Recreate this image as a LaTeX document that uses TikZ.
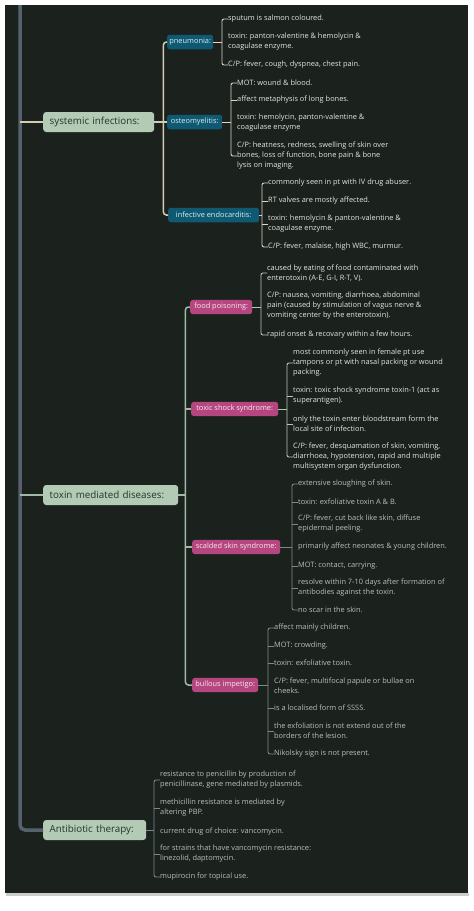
\documentclass[tikz,border=0pt]{standalone}
\usepackage{fontspec}
\setmainfont{Open Sans}
\usetikzlibrary{calc}
\definecolor{panel}{HTML}{1B221E}
\definecolor{mainfill}{HTML}{B3CAB5}
\definecolor{maintext}{HTML}{26352B}
\definecolor{tealfill}{HTML}{0F5A72}
\definecolor{tealtext}{HTML}{D8EEF2}
\definecolor{pinkfill}{HTML}{B5467F}
\definecolor{pinktext}{HTML}{F8E8F0}
\definecolor{beige}{HTML}{D6CCB2}
\definecolor{leafline}{HTML}{DDD6C6}
\definecolor{greenline}{HTML}{A3B9A7}
\definecolor{leaftext}{HTML}{E4E4E0}
\definecolor{barcol}{HTML}{566170}
\definecolor{graybr}{HTML}{7D8A84}
\newcommand{\mkbracket}[4]{%
  \path (#2.west) ++(-6,0) coordinate (#1j);
  \draw[#4, rounded corners=2pt] (#2.west) -- (#1j) |- (#3.west);
  \draw[#4] (#1.east) -- (#1.east -| #1j);
}
\newcommand{\mktick}[3]{%
  \foreach \m in {#2} \draw[#3] (\m.west -| #1j) -- (\m.west);
}
\begin{document}
\begin{tikzpicture}[x=1pt,y=-1pt,
  mainnode/.style={fill=mainfill, text=maintext, rounded corners=3pt, anchor=west,
    font=\fontsize{9.8}{11}\selectfont, minimum height=20pt, inner xsep=6.5pt, align=left},
  tealnode/.style={fill=tealfill, text=tealtext, rounded corners=2.5pt, anchor=west,
    font=\fontsize{7.4}{9}\selectfont, minimum height=14.5pt, inner xsep=2pt},
  pinknode/.style={fill=pinkfill, text=pinktext, rounded corners=2.5pt, anchor=west,
    font=\fontsize{7.4}{9}\selectfont, minimum height=14pt, inner xsep=2pt},
  leaf/.style={anchor=west, inner sep=0pt, text=leaftext, align=left,
    font=\fontsize{7.4}{10}\selectfont},
  soft/.style={leaf, text opacity=0.8},
  lc/.style={draw=leafline, line width=0.9pt},
  lcg/.style={draw=greenline!80!white, line width=0.9pt},
  lcd/.style={draw=graybr, line width=0.9pt},
  sysbr/.style={draw=beige, line width=1.5pt},
  toxbr/.style={draw=greenline, line width=1.5pt},
  antibr/.style={draw=graybr, line width=1.5pt},
  barline/.style={draw=barcol, line width=3.5pt}
]
\useasboundingbox (0,0) rectangle (474,911);
\fill[white] (0,0) rectangle (474,911);
\fill[gray!40] (6,893) rectangle (469,896);
\fill[panel] (5,5) rectangle (468,893);

% main nodes
\node[mainnode, text width=98pt] (sys) at (43,122) {systemic infections:};
\node[mainnode, text width=122pt] (tox) at (43,495) {toxin mediated diseases:};
\node[mainnode, text width=90pt] (anti) at (43,830) {Antibiotic therapy:};

% main bar
\coordinate (bartop) at (20,5);
\draw[barline, rounded corners=5pt] (bartop) |- (anti.west);
\draw[sysbr] (sys.west -| bartop) -- (sys.west);
\draw[toxbr] (tox.west -| bartop) -- (tox.west);

% systemic children
\node[tealnode, minimum width=46pt] (pneu) at (167,42) {pneumonia:};
\node[tealnode, minimum width=55pt] (osteo) at (167,122) {osteomyelitis:};
\node[tealnode, minimum width=91pt] (endo) at (168,215) {infective endocarditis:};
\coordinate (sysj) at ($(sys.east)+(9,0)$);
\draw[sysbr, rounded corners=3pt] (pneu.west) -| (sysj) |- (endo.west);
\draw[sysbr] (sys.east) -- (osteo.west);

% pneumonia leaves
\node[leaf] (p1) at (228,19) {sputum is salmon coloured.};
\node[leaf] (p2) at (228,42) {toxin: panton-valentine \& hemolycin \&\\coagulase enzyme.};
\node[leaf] (p3) at (228,65) {C/P: fever, cough, dyspnea, chest pain.};
\mkbracket{pneu}{p1}{p3}{lc}

% osteomyelitis leaves
\node[leaf] (o1) at (237,83) {MOT: wound \& blood.};
\node[leaf] (o2) at (237,100) {affect metaphysis of long bones.};
\node[leaf] (o3) at (237,123) {toxin: hemolycin, panton-valentine \&\\coagulase enzyme};
\node[leaf] (o4) at (237,156) {C/P: heatness, redness, swelling of skin over\\bones, loss of function, bone pain \& bone\\lysis on imaging.};
\mkbracket{osteo}{o1}{o4}{lc}
\mktick{osteo}{o2}{lc}

% endocarditis leaves
\node[leaf] (e1) at (268,183) {commonly seen in pt with IV drug abuser.};
\node[leaf] (e2) at (268,201) {RT valves are mostly affected.};
\node[leaf] (e3) at (268,224) {toxin: hemolycin \& panton-valentine \&\\coagulase enzyme.};
\node[leaf] (e4) at (268,247) {C/P: fever, malaise, high WBC, murmur.};
\mkbracket{endo}{e1}{e4}{lc}
\mktick{endo}{e2,e3}{lc}

% toxin mediated children
\node[pinknode, minimum width=62pt] (food) at (190,307) {food poisoning:};
\node[pinknode, minimum width=87pt] (tss) at (191,409) {toxic shock syndrome:};
\node[pinknode, minimum width=88pt] (sss) at (192,547) {scalded skin syndrome:};
\node[pinknode, minimum width=66pt] (bull) at (192,685) {bullous impetigo:};
\coordinate (toxj) at ($(tox.east)+(7,0)$);
\draw[toxbr, rounded corners=3pt] (food.west) -| (toxj) |- (bull.west);
\draw[toxbr] (tox.east) -- (toxj);
\draw[toxbr] (toxj |- tss.west) -- (tss.west);
\draw[toxbr] (toxj |- sss.west) -- (sss.west);

% food poisoning leaves
\node[leaf] (f1) at (267,273) {caused by eating of food contaminated with\\enterotoxin (A-E, G-I, R-T, V).};
\node[leaf] (f2) at (267,306) {C/P: nausea, vomiting, diarrhoea, abdominal\\pain (caused by stimulation of vagus nerve \&\\vomiting center by the enterotoxin).};
\node[leaf] (f3) at (267,335) {rapid onset \& recovary within a few hours.};
\mkbracket{food}{f1}{f3}{lcg}

% toxic shock leaves
\node[leaf] (t1) at (293,363) {most commonly seen in female pt use\\tampons or pt with nasal packing or wound\\packing.};
\node[leaf] (t2) at (293,396) {toxin: toxic shock syndrome toxin-1 (act as\\superantigen).};
\node[leaf] (t3) at (293,424) {only the toxin enter bloodstream form the\\local site of infection.};
\node[leaf] (t4) at (293,457) {C/P: fever, desquamation of skin, vomiting,\\diarrhoea, hypotension, rapid and multiple\\multisystem organ dysfunction.};
\mkbracket{tss}{t1}{t4}{lcg}
\mktick{tss}{t2,t3}{lcg}

% scalded skin leaves
\node[soft] (s1) at (298,484) {extensive sloughing of skin.};
\node[soft] (s2) at (298,502) {toxin: exfoliative toxin A \& B.};
\node[soft] (s3) at (298,524) {C/P: fever, cut back like skin, diffuse\\epidermal peeling.};
\node[soft] (s4) at (298,547) {primarily affect neonates \& young children.};
\node[soft] (s5) at (298,566) {MOT: contact, carrying.};
\node[soft] (s6) at (298,588) {resolve within 7-10 days after formation of\\antibodies against the toxin.};
\node[soft] (s7) at (298,610) {no scar in the skin.};
\mkbracket{sss}{s1}{s7}{lcd}
\mktick{sss}{s2,s3,s5,s6}{lcd}

% bullous impetigo leaves
\node[soft] (b1) at (274,628) {affect mainly children.};
\node[soft] (b2) at (274,646) {MOT: crowding.};
\node[soft] (b3) at (274,663) {toxin: exfoliative toxin.};
\node[soft] (b4) at (274,686) {C/P: fever, multifocal papule or bullae on\\cheeks.};
\node[soft] (b5) at (274,708) {is a localised form of SSSS.};
\node[soft] (b6) at (274,731) {the exfoliation is not extend out of the\\borders of the lesion.};
\node[soft] (b7) at (274,754) {Nikolsky sign is not present.};
\mkbracket{bull}{b1}{b7}{lcd}
\mktick{bull}{b2,b3,b5,b6}{lcd}

% antibiotic leaves
\node[soft] (a1) at (160,780) {resistance to penicillin by production of\\penicillinase, gene mediated by plasmids.};
\node[soft] (a2) at (160,808) {methicillin resistance is mediated by\\altering PBP.};
\node[soft] (a3) at (160,832) {current drug of choice: vancomycin.};
\node[soft] (a4) at (160,854) {for strains that have vancomycin resistance:\\linezolid, daptomycin.};
\node[soft] (a5) at (160,877) {mupirocin for topical use.};
\mkbracket{anti}{a1}{a5}{lcd}
\mktick{anti}{a2,a4}{lcd}
\end{tikzpicture}
\end{document}
